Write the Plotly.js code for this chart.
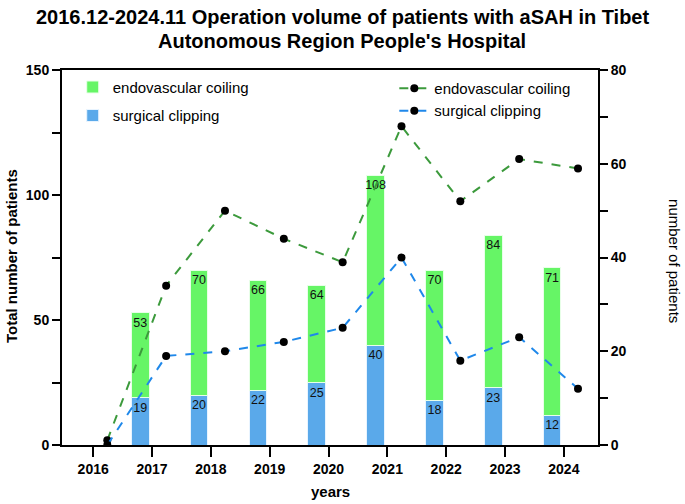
<!DOCTYPE html>
<html>
<head>
<meta charset="utf-8">
<script src="https://cdn.plot.ly/plotly-3.0.1.min.js"></script>
<style>html,body{margin:0;padding:0;background:#fff}#chart{width:685px;height:504px}</style>
</head>
<body>
<div id="chart"></div>
<script>
const years = [2016, 2017, 2018, 2019, 2020, 2021, 2022, 2023, 2024];
const totalPatients = [0, 53, 70, 66, 64, 108, 70, 84, 71];
const clippingBar = [0, 19, 20, 22, 25, 40, 18, 23, 12];
const coilingLine = [1, 34, 50, 44, 39, 68, 52, 61, 59];
const clippingLine = [0, 19, 20, 22, 25, 40, 18, 23, 12];
const tickLabels = ['2016', '2017', '2018', '2019', '2020', '2021', '2022', '2023', '2024'];

const coilingBar = totalPatients.map((t, i) => t - clippingBar[i]);
const barText = v => v.map(x => x > 0 ? String(x) : '');
const pointX = years.map(y => y + 0.24);

const FONT = 'Liberation Sans, Arial, sans-serif';

const traces = [
  {
    type: 'bar', x: years, y: clippingBar, name: 'surgical clipping',
    marker: {color: '#5aa9ea', line: {color: '#e8f4ff', width: 1}},
    width: 0.3, offset: -0.35,
    text: barText(clippingBar), textposition: 'inside', insidetextanchor: 'end',
    constraintext: 'none', cliponaxis: false,
    textfont: {size: 12.5, color: '#111', family: FONT}, textangle: 0,
    legend: 'legend', legendrank: 2, legendgroup: 'b', hoverinfo: 'skip'
  },
  {
    type: 'bar', x: years, y: coilingBar, name: 'endovascular coiling',
    marker: {color: '#66f566', line: {color: '#e8ffe8', width: 1}},
    width: 0.3, offset: -0.35,
    text: barText(totalPatients), textposition: 'inside', insidetextanchor: 'end',
    constraintext: 'none', cliponaxis: false,
    textfont: {size: 12.5, color: '#111', family: FONT}, textangle: 0,
    legend: 'legend', legendrank: 1, legendgroup: 'a', hoverinfo: 'skip'
  },
  {
    type: 'scatter', mode: 'lines+markers', x: pointX, y: coilingLine, yaxis: 'y2',
    name: 'endovascular coiling',
    line: {color: '#3c9a3c', width: 2, dash: 'dash'},
    marker: {color: '#000', size: 8},
    legend: 'legend2', legendrank: 1
  },
  {
    type: 'scatter', mode: 'lines+markers', x: pointX, y: clippingLine, yaxis: 'y2',
    name: 'surgical clipping',
    line: {color: '#1f88ea', width: 2, dash: 'dash'},
    marker: {color: '#000', size: 8},
    legend: 'legend2', legendrank: 2
  }
];

const layout = {
  width: 685, height: 504,
  margin: {l: 62, r: 87, t: 70, b: 59},
  paper_bgcolor: '#fff', plot_bgcolor: '#fff',
  font: {family: FONT, color: '#000'},
  barmode: 'stack',
  showlegend: true,
  xaxis: {
    range: [2015.47, 2024.58],
    tickvals: years, ticktext: tickLabels,
    tickfont: {size: 14, family: FONT, color: '#000', weight: 'bold'},
    ticks: 'outside', ticklen: 10, tickwidth: 2, tickcolor: '#000',
    showline: true, linecolor: '#000', linewidth: 2, mirror: true,
    showgrid: false, zeroline: false, fixedrange: true
  },
  yaxis: {
    range: [0, 150], tickvals: [0, 50, 100, 150],
    tickfont: {size: 14, family: FONT, color: '#000', weight: 'bold'},
    ticks: 'outside', ticklen: 8, tickwidth: 2, tickcolor: '#000',
    minor: {tickvals: [25, 75, 125], ticks: 'outside', ticklen: 8, tickwidth: 2, tickcolor: '#000', showgrid: false},
    showline: true, linecolor: '#000', linewidth: 2,
    showgrid: false, zeroline: false
  },
  yaxis2: {
    overlaying: 'y', side: 'right', range: [0, 80], tickvals: [0, 20, 40, 60, 80],
    tickfont: {size: 14, family: FONT, color: '#000', weight: 'bold'},
    ticks: 'outside', ticklen: 8, tickwidth: 2, tickcolor: '#000',
    minor: {tickvals: [10, 30, 50, 70], ticks: 'outside', ticklen: 8, tickwidth: 2, tickcolor: '#000', showgrid: false},
    showline: true, linecolor: '#000', linewidth: 2,
    showgrid: false, zeroline: false
  },
  legend: {
    x: 0.02, y: 0.998, xanchor: 'left', yanchor: 'top',
    bgcolor: 'rgba(0,0,0,0)', font: {size: 15, family: FONT, color: '#000'},
    traceorder: 'grouped', tracegroupgap: 6, itemwidth: 30
  },
  legend2: {
    x: 0.62, y: 0.995, xanchor: 'left', yanchor: 'top',
    bgcolor: 'rgba(0,0,0,0)', font: {size: 15, family: FONT, color: '#000'},
    traceorder: 'normal', itemwidth: 30
  },
  annotations: [
    {text: '<b>2016.12-2024.11 Operation volume of patients with aSAH in Tibet</b>',
     xref: 'paper', yref: 'paper', x: 0.523, y: 1.141, xanchor: 'center', yanchor: 'middle',
     showarrow: false, font: {size: 20, family: FONT, color: '#000'}},
    {text: '<b>Autonomous Region People\'s Hospital</b>',
     xref: 'paper', yref: 'paper', x: 0.523, y: 1.077, xanchor: 'center', yanchor: 'middle',
     showarrow: false, font: {size: 20, family: FONT, color: '#000'}},
    {text: '<b>Total number of patients</b>', xref: 'paper', yref: 'paper', x: -0.095, y: 0.504,
     xanchor: 'center', yanchor: 'middle',
     textangle: -90, showarrow: false, font: {size: 15, family: FONT, color: '#000'}},
    {text: 'number of patients', xref: 'paper', yref: 'paper', x: 1.144, y: 0.49,
     xanchor: 'center', yanchor: 'middle',
     textangle: 90, showarrow: false, font: {size: 15, family: FONT, color: '#000'}},
    {text: '<b>years</b>', xref: 'paper', yref: 'paper', x: 0.5, y: -0.125,
     xanchor: 'center', yanchor: 'middle',
     showarrow: false, font: {size: 15, family: FONT, color: '#000'}}
  ]
};

Plotly.newPlot('chart', traces, layout, {displayModeBar: false, staticPlot: true});
</script>
</body>
</html>
